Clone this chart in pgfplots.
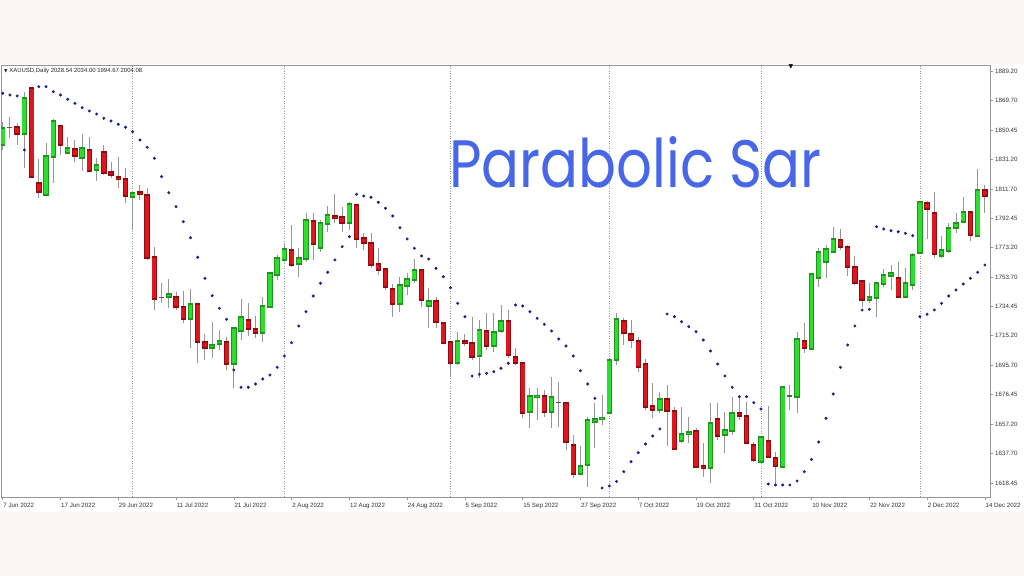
\documentclass[border=0pt]{standalone}
\usepackage{fontspec}
\setmainfont{Liberation Sans}
\newfontfamily\titlefont{Poppins}
\newfontfamily\symfont{DejaVu Sans}
\usepackage{graphicx}
\usepackage{pgfplots}
\usepackage{pgfplotstable}
\pgfplotsset{compat=1.18}
\definecolor{bgpink}{RGB}{252,244,242}
\definecolor{upfill}{RGB}{46,222,46}
\definecolor{upedge}{RGB}{30,150,30}
\definecolor{dnfill}{RGB}{222,22,30}
\definecolor{dnedge}{RGB}{150,10,15}
\definecolor{wick}{RGB}{150,150,150}
\definecolor{sardot}{RGB}{30,30,140}
\definecolor{titleblue}{RGB}{72,103,232}
\definecolor{frame}{RGB}{150,150,150}

\pgfplotstableread{
i o h l c
0 1840.57 1855.68 1837.28 1851.74
1 1852.07 1858.97 1845.17 1852.07
2 1852.40 1855.03 1840.57 1847.80
3 1847.80 1875.40 1825.46 1871.46
4 1878.03 1878.69 1818.88 1819.54
5 1815.60 1831.37 1805.74 1809.68
6 1807.71 1841.88 1807.05 1833.34
7 1832.68 1857.66 1815.60 1856.34
8 1853.06 1853.71 1834.00 1840.57
9 1835.31 1845.83 1834.66 1838.60
10 1837.94 1843.86 1829.40 1833.34
11 1832.03 1847.80 1823.48 1838.60
12 1837.28 1845.83 1822.83 1823.48
13 1824.14 1832.03 1816.91 1827.43
14 1835.97 1840.57 1820.86 1822.17
15 1822.83 1829.40 1818.88 1820.86
16 1819.54 1832.68 1812.31 1818.23
17 1818.23 1825.46 1802.45 1807.05
18 1806.40 1809.68 1784.71 1809.03
19 1809.68 1814.28 1804.43 1808.37
20 1807.71 1812.31 1765.00 1766.31
21 1766.97 1773.54 1732.14 1739.37
22 1740.35 1749.88 1736.74 1740.35
23 1740.68 1752.51 1733.45 1742.65
24 1740.68 1743.97 1732.14 1734.11
25 1734.11 1744.62 1723.60 1726.22
26 1726.22 1745.94 1707.17 1736.08
27 1736.08 1736.74 1697.31 1711.11
28 1711.11 1716.37 1699.28 1707.17
29 1707.17 1724.25 1700.60 1709.14
30 1709.80 1719.00 1705.85 1711.77
31 1711.11 1714.40 1692.71 1696.65
32 1696.65 1720.97 1680.88 1720.31
33 1718.34 1739.37 1712.42 1727.54
34 1725.57 1736.74 1715.05 1719.65
35 1719.65 1728.20 1713.74 1717.02
36 1717.02 1740.68 1711.11 1734.77
37 1734.11 1757.11 1733.45 1756.45
38 1755.14 1768.28 1751.85 1766.31
39 1765.00 1776.17 1763.68 1772.23
40 1771.57 1788.00 1760.40 1761.71
41 1762.37 1772.88 1753.83 1766.31
42 1765.65 1795.88 1763.68 1791.28
43 1790.63 1795.88 1765.00 1775.51
44 1772.88 1791.28 1770.25 1789.31
45 1788.65 1800.48 1783.40 1794.57
46 1793.91 1808.37 1789.31 1792.60
47 1793.25 1799.83 1783.40 1789.31
48 1789.31 1803.11 1784.71 1801.80
49 1801.14 1801.80 1772.88 1778.80
50 1779.45 1782.74 1771.57 1776.17
51 1776.17 1782.74 1759.74 1761.71
52 1762.37 1772.88 1755.14 1758.43
53 1759.08 1759.74 1745.28 1747.25
54 1745.94 1749.22 1727.54 1736.08
55 1736.08 1753.83 1730.82 1748.57
56 1747.91 1756.45 1742.00 1752.51
57 1751.85 1765.65 1749.88 1758.43
58 1758.43 1759.08 1734.11 1738.71
59 1734.77 1746.60 1720.31 1738.05
60 1738.05 1740.68 1720.31 1724.25
61 1723.60 1724.25 1709.80 1710.45
62 1711.11 1711.77 1688.11 1697.31
63 1697.31 1717.68 1695.99 1711.77
64 1711.77 1716.37 1708.48 1710.45
65 1710.45 1727.54 1699.28 1701.25
66 1701.91 1725.57 1687.45 1719.00
67 1718.34 1730.17 1705.85 1708.48
68 1708.48 1730.17 1704.54 1717.68
69 1718.34 1735.42 1717.02 1724.91
70 1724.91 1732.14 1700.60 1702.57
71 1701.25 1707.17 1695.99 1697.31
72 1697.31 1697.97 1661.17 1664.45
73 1665.11 1680.88 1654.59 1675.62
74 1674.97 1680.88 1659.85 1675.62
75 1675.62 1679.57 1661.82 1665.11
76 1665.11 1688.11 1654.59 1674.97
77 1671.35 1684.82 1655.25 1671.35
78 1671.02 1671.68 1640.14 1645.39
79 1643.42 1649.99 1621.74 1624.36
80 1624.36 1642.76 1623.71 1629.62
81 1630.28 1661.82 1615.82 1659.85
82 1658.54 1671.02 1641.45 1660.51
83 1660.51 1676.28 1656.57 1661.17
84 1664.45 1699.94 1663.79 1699.28
85 1699.28 1730.17 1695.99 1726.22
86 1724.91 1726.88 1709.14 1717.02
87 1716.37 1725.57 1707.17 1712.42
88 1711.77 1714.40 1691.39 1694.68
89 1696.65 1699.94 1666.42 1668.39
90 1669.05 1684.17 1661.17 1666.42
91 1666.42 1678.25 1664.45 1673.65
92 1673.65 1682.85 1642.76 1665.77
93 1665.77 1668.39 1640.14 1640.79
94 1646.05 1668.39 1644.74 1650.65
95 1650.65 1661.82 1644.74 1651.97
96 1652.62 1654.59 1628.30 1628.96
97 1629.62 1644.74 1622.39 1628.30
98 1628.30 1671.02 1618.45 1657.88
99 1660.51 1671.02 1646.71 1649.34
100 1649.99 1665.11 1638.16 1653.28
101 1652.62 1674.97 1649.99 1664.45
102 1664.45 1676.28 1659.85 1662.48
103 1662.48 1671.68 1644.08 1644.74
104 1643.42 1645.39 1632.25 1633.56
105 1632.25 1649.34 1631.59 1648.68
106 1646.05 1669.05 1634.88 1635.54
107 1634.88 1638.82 1617.14 1629.62
108 1628.96 1682.20 1628.30 1681.54
109 1675.62 1682.85 1666.42 1675.62
110 1674.97 1717.68 1664.45 1713.08
111 1711.77 1723.60 1703.88 1707.17
112 1706.51 1756.45 1705.85 1755.80
113 1753.17 1772.88 1747.25 1770.25
114 1763.68 1774.85 1753.17 1772.23
115 1770.25 1786.68 1769.60 1778.80
116 1778.14 1785.37 1771.57 1773.54
117 1773.54 1774.85 1754.48 1760.40
118 1760.40 1767.63 1748.57 1749.88
119 1751.20 1751.85 1734.11 1738.71
120 1738.71 1749.88 1736.74 1740.68
121 1740.02 1750.54 1727.54 1749.88
122 1749.22 1759.08 1747.25 1755.14
123 1754.48 1761.71 1745.28 1756.45
124 1753.17 1763.68 1740.02 1740.68
125 1740.68 1759.74 1740.02 1749.88
126 1748.57 1769.60 1745.28 1768.28
127 1769.60 1803.77 1768.94 1803.11
128 1802.45 1803.77 1778.80 1798.51
129 1795.88 1809.68 1766.31 1768.94
130 1767.63 1780.77 1766.31 1771.57
131 1770.91 1789.31 1769.60 1786.03
132 1786.03 1795.88 1782.74 1789.31
133 1789.97 1806.40 1789.31 1796.54
134 1796.54 1797.20 1777.48 1781.43
135 1780.77 1824.80 1780.11 1811.00
136 1811.00 1814.28 1795.88 1807.05
}\candles

\pgfplotstableread{
i s
0 1874.55
1 1873.43
2 1872.77
3 1837.28
5 1878.88
6 1878.88
7 1875.60
8 1873.43
9 1870.60
10 1867.97
11 1865.08
12 1862.91
13 1860.94
14 1858.12
15 1856.34
16 1854.17
17 1852.20
18 1849.31
19 1843.86
20 1839.06
21 1831.83
22 1819.74
23 1809.22
24 1800.02
25 1790.17
26 1779.65
27 1766.77
28 1752.97
29 1741.54
30 1733.26
31 1726.03
32 1692.71
33 1681.34
34 1681.34
35 1683.51
36 1686.79
37 1689.42
38 1694.48
39 1701.91
40 1710.65
41 1721.62
42 1731.02
43 1741.34
44 1749.68
45 1756.91
46 1765.00
47 1773.74
48 1780.31
49 1808.17
50 1807.05
51 1806.20
52 1802.91
53 1798.97
54 1793.91
55 1786.22
56 1778.80
57 1772.69
58 1767.63
59 1765.65
60 1759.54
61 1754.02
62 1746.79
63 1736.54
64 1727.74
65 1688.77
66 1689.88
67 1690.54
68 1691.59
69 1693.83
70 1697.11
71 1735.42
72 1734.77
73 1731.02
74 1726.68
75 1722.74
76 1718.34
77 1713.08
78 1708.48
79 1701.91
80 1692.25
81 1683.51
82 1674.11
83 1615.16
84 1616.48
85 1619.44
86 1625.88
87 1632.45
88 1638.36
89 1644.08
90 1649.34
91 1653.94
92 1729.51
93 1727.74
94 1724.45
95 1721.16
96 1717.88
97 1712.42
98 1705.20
99 1696.65
100 1688.77
101 1681.34
102 1675.16
103 1675.16
104 1671.22
105 1667.08
106 1617.79
107 1617.14
108 1617.14
109 1617.14
110 1619.76
111 1625.88
112 1633.89
113 1645.39
114 1660.97
115 1676.94
116 1694.48
117 1709.14
118 1721.62
119 1732.14
120 1732.60
121 1786.88
122 1785.37
123 1784.25
124 1783.59
125 1782.54
126 1780.97
127 1727.74
128 1729.31
129 1732.14
130 1736.54
131 1741.34
132 1745.28
133 1749.22
134 1752.97
135 1756.91
136 1761.71
}\sartable

\pgfplotsset{candle/.style={draw=none, mark=none, forget plot, unbounded coords=discard,
  error bars/y dir=both, error bars/y explicit, error bars/error mark=none,
  error bars/error bar style={#1}}}

\begin{document}
\begin{tikzpicture}[x=1bp,y=1bp]
\fill[bgpink] (0,0) rectangle (1024,576);
\fill[white] (0,64) rectangle (1024,512);
\useasboundingbox (0,0) rectangle (1024,576);
\begin{axis}[
  at={(1bp,79bp)}, anchor=south west,
  scale only axis, width=989bp, height=432bp,
  xmin=-0.24, xmax=136.71, ymin=1609.25, ymax=1893.14,
  axis line style={draw=frame, line width=0.8bp},
  xtick={0,8,...,136},
  xticklabels={7 Jun 2022,17 Jun 2022,29 Jun 2022,11 Jul 2022,21 Jul 2022,2 Aug 2022,12 Aug 2022,24 Aug 2022,5 Sep 2022,15 Sep 2022,27 Sep 2022,7 Oct 2022,19 Oct 2022,31 Oct 2022,10 Nov 2022,22 Nov 2022,2 Dec 2022,14 Dec 2022},
  ytick={1618.45,1637.70,1657.20,1676.45,1695.70,1715.20,1734.45,1753.70,1773.20,1792.45,1811.70,1831.20,1850.45,1869.70,1889.20},
  yticklabels={1618.45,1637.70,1657.20,1676.45,1695.70,1715.20,1734.45,1753.70,1773.20,1792.45,1811.70,1831.20,1850.45,1869.70,1889.20},
  xtick pos=left, ytick pos=right, yticklabel pos=right,
  tick align=outside, major tick length=3bp,
  tick style={draw=frame, line width=0.6bp},
  ticklabel style={font=\fontsize{6.2}{7}\selectfont, text=black!80},
  xticklabel style={anchor=north west, inner sep=0pt, xshift=0.5bp, yshift=-2.5bp},
  yticklabel style={anchor=west, inner sep=0pt, xshift=2bp},
  extra x ticks={18,39,62,84,105,127},
  extra x tick labels={},
  extra x tick style={grid=major, major tick length=0pt, major grid style={draw=gray!80, dash pattern=on 1bp off 1.5bp, line width=0.6bp}},
  clip=true,
]
% wicks
\addplot[candle={draw=wick, line width=1bp}]
  table[x=i, y expr={0.5*(\thisrow{h}+\thisrow{l})}, y error expr={0.5*(\thisrow{h}-\thisrow{l})}] {\candles};
% up bodies
\addplot[candle={draw=upedge, line width=5.4bp}]
  table[x=i, y expr={\thisrow{c}>\thisrow{o} ? 0.5*(\thisrow{o}+\thisrow{c}) : nan}, y error expr={0.5*abs(\thisrow{c}-\thisrow{o})+0.45}] {\candles};
\addplot[candle={draw=upfill, line width=3.8bp}]
  table[x=i, y expr={\thisrow{c}>\thisrow{o} ? 0.5*(\thisrow{o}+\thisrow{c}) : nan}, y error expr={max(0.5*abs(\thisrow{c}-\thisrow{o})-0.5,0.1)}] {\candles};
% down bodies
\addplot[candle={draw=dnedge, line width=5.4bp}]
  table[x=i, y expr={\thisrow{c}<\thisrow{o} ? 0.5*(\thisrow{o}+\thisrow{c}) : nan}, y error expr={0.5*abs(\thisrow{c}-\thisrow{o})+0.45}] {\candles};
\addplot[candle={draw=dnfill, line width=3.8bp}]
  table[x=i, y expr={\thisrow{c}<\thisrow{o} ? 0.5*(\thisrow{o}+\thisrow{c}) : nan}, y error expr={max(0.5*abs(\thisrow{c}-\thisrow{o})-0.5,0.1)}] {\candles};
% doji
\addplot[candle={draw=black!65, line width=5bp}]
  table[x=i, y expr={abs(\thisrow{c}-\thisrow{o})<0.001 ? \thisrow{o} : nan}, y error expr={0.4}] {\candles};
% parabolic SAR
\addplot[only marks, mark=*, mark size=1.3bp, mark options={draw=sardot, fill=sardot}] table[x=i, y=s] {\sartable};
\end{axis}
\node[anchor=base west, inner sep=0pt, text=titleblue] at (449,388) {\resizebox{372bp}{51bp}{\titlefont Parabolic Sar}};
\node[anchor=west, inner sep=0pt, font=\fontsize{6}{7}\selectfont, text=black!85] at (4,505.5) {{\symfont\fontsize{4.5}{5}\selectfont ▼}\ XAUUSD,Daily 2028.54 2034.00 1994.67 2004.08};
\node[inner sep=0pt, font={\symfont\fontsize{6}{6}\selectfont}] at (791,509.5) {▼};
\end{tikzpicture}
\end{document}
